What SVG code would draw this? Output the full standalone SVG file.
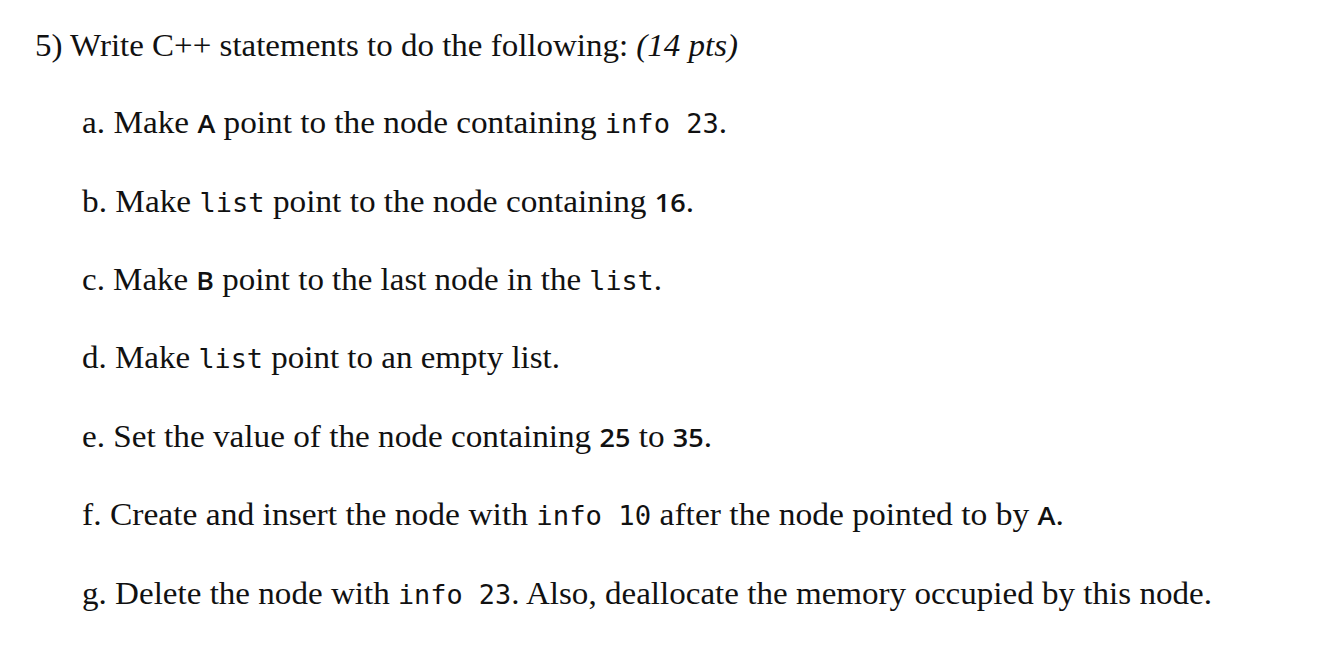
<svg xmlns="http://www.w3.org/2000/svg" width="1336" height="664" viewBox="0 0 1336 664">
<style>
text{font-family:"Liberation Serif","DejaVu Serif",serif;font-size:32px;fill:#111}
.m{font-family:"DejaVu Sans Mono","Liberation Mono",monospace;font-size:26px}
.s{font-family:"Open Sans","Liberation Sans",sans-serif;font-size:26px;font-weight:600}
</style>
<rect width="1336" height="664" fill="#fff"/>
<g id="title"><text x="35" y="56" textLength="703" lengthAdjust="spacingAndGlyphs">5) Write C++ statements to do the following: <tspan font-style="italic">(14 pts)</tspan></text></g>
<g id="a"><text x="82" y="133" textLength="645" lengthAdjust="spacingAndGlyphs">a. Make <tspan class="s">A</tspan> point to the node containing <tspan class="m">info 23</tspan>.</text></g>
<g id="b"><text x="82" y="212" textLength="612" lengthAdjust="spacingAndGlyphs">b. Make <tspan class="m">list</tspan> point to the node containing <tspan class="s">16</tspan>.</text></g>
<g id="c"><text x="82" y="290" textLength="580" lengthAdjust="spacingAndGlyphs">c. Make <tspan class="s">B</tspan> point to the last node in the <tspan class="m">list</tspan>.</text></g>
<g id="d"><text x="82" y="368" textLength="478" lengthAdjust="spacingAndGlyphs">d. Make <tspan class="m">list</tspan> point to an empty list.</text></g>
<g id="e"><text x="82" y="447" textLength="630" lengthAdjust="spacingAndGlyphs">e. Set the value of the node containing <tspan class="s">25</tspan> to <tspan class="s">35</tspan>.</text></g>
<g id="f"><text x="82" y="525" textLength="982" lengthAdjust="spacingAndGlyphs">f. Create and insert the node with <tspan class="m">info 10</tspan> after the node pointed to by <tspan class="s">A</tspan>.</text></g>
<g id="g"><text x="82" y="604" textLength="1130" lengthAdjust="spacingAndGlyphs">g. Delete the node with <tspan class="m">info 23</tspan>. Also, deallocate the memory occupied by this node.</text></g>
</svg>
